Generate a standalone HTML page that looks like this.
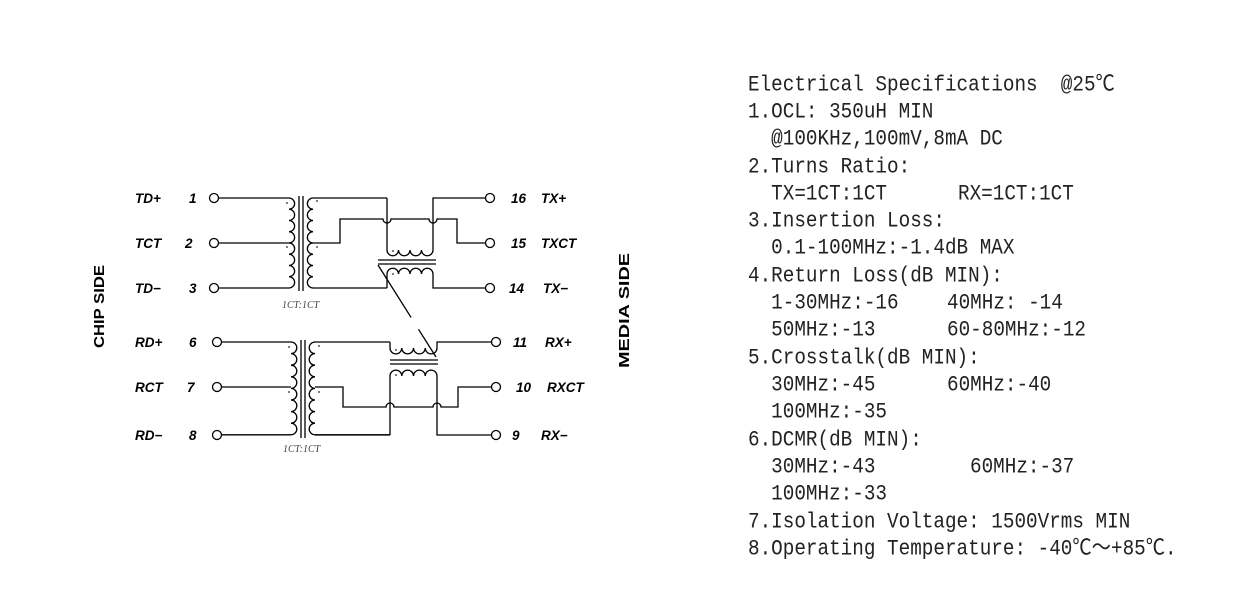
<!DOCTYPE html>
<html><head><meta charset="utf-8"><style>
body{margin:0;background:#fff;width:1242px;height:606px;overflow:hidden;position:relative}
svg{position:absolute;left:0;top:0}
.sp{position:absolute;font-family:"Liberation Mono","Noto Sans CJK SC",monospace;font-size:19.5px;color:#222;white-space:pre;line-height:20px;transform:scale(0.99,1.12);transform-origin:0 50%}
</style></head><body>
<svg width="1242" height="606" viewBox="0 0 1242 606">
<g fill="none" stroke="#000" stroke-width="1.3">
<path d="M218,198 H289 a5.6,5.6 0 0 1 0,11.25 a5.6,5.6 0 0 1 0,11.25 a5.6,5.6 0 0 1 0,11.25 a5.6,5.6 0 0 1 0,11.25 a5.6,5.6 0 0 1 0,11.25 a5.6,5.6 0 0 1 0,11.25 a5.6,5.6 0 0 1 0,11.25 a5.6,5.6 0 0 1 0,11.25 H218"/>
<path d="M218,243 H289"/>
<line x1="299" y1="196" x2="299" y2="291"/><line x1="303" y1="196" x2="303" y2="291"/>
<path d="M387,198 H313 a5.6,5.6 0 0 0 0,11.25 a5.6,5.6 0 0 0 0,11.25 a5.6,5.6 0 0 0 0,11.25 a5.6,5.6 0 0 0 0,11.25 a5.6,5.6 0 0 0 0,11.25 a5.6,5.6 0 0 0 0,11.25 a5.6,5.6 0 0 0 0,11.25 a5.6,5.6 0 0 0 0,11.25 H387"/>
<path d="M313,243 H340 V219 H383 a4,4 0 0 0 8,0 H429 a4,4 0 0 0 8,0 H457 V243 H486"/>
<path d="M387,198 V250 a5.75,5.75 0 0 0 11.5,0 a5.75,5.75 0 0 0 11.5,0 a5.75,5.75 0 0 0 11.5,0 a5.75,5.75 0 0 0 11.5,0 V198 H486"/>
<line x1="378" y1="260" x2="436" y2="260"/><line x1="378" y1="264" x2="436" y2="264"/>
<path d="M387,288 V274 a5.75,5.75 0 0 1 11.5,0 a5.75,5.75 0 0 1 11.5,0 a5.75,5.75 0 0 1 11.5,0 a5.75,5.75 0 0 1 11.5,0 V288 H486"/>
<path d="M221,342 H291 a5.6,5.6 0 0 1 0,11.6 a5.6,5.6 0 0 1 0,11.6 a5.6,5.6 0 0 1 0,11.6 a5.6,5.6 0 0 1 0,11.6 a5.6,5.6 0 0 1 0,11.6 a5.6,5.6 0 0 1 0,11.6 a5.6,5.6 0 0 1 0,11.6 a5.6,5.6 0 0 1 0,11.6 H221"/>
<path d="M221,387 H291"/>
<line x1="301" y1="340" x2="301" y2="438"/><line x1="305" y1="340" x2="305" y2="438"/>
<path d="M390,342 H315 a5.6,5.6 0 0 0 0,11.6 a5.6,5.6 0 0 0 0,11.6 a5.6,5.6 0 0 0 0,11.6 a5.6,5.6 0 0 0 0,11.6 a5.6,5.6 0 0 0 0,11.6 a5.6,5.6 0 0 0 0,11.6 a5.6,5.6 0 0 0 0,11.6 a5.6,5.6 0 0 0 0,11.6 H390"/>
<path d="M315,387 H343 V407 H386 a4,4 0 0 1 8,0 H433 a4,4 0 0 1 8,0 H458 V387 H492"/>
<path d="M390,342 V348 a5.75,5.75 0 0 0 11.75,0 a5.75,5.75 0 0 0 11.75,0 a5.75,5.75 0 0 0 11.75,0 a5.75,5.75 0 0 0 11.75,0 V342 H492"/>
<line x1="390" y1="360" x2="438" y2="360"/><line x1="390" y1="364" x2="438" y2="364"/>
<path d="M390,435 V376 a5.75,5.75 0 0 1 11.75,0 a5.75,5.75 0 0 1 11.75,0 a5.75,5.75 0 0 1 11.75,0 a5.75,5.75 0 0 1 11.75,0 V435 H492"/>
<path d="M390,435 H315"/>
<line x1="378" y1="265" x2="436" y2="357" stroke-dasharray="62 14"/>
<circle cx="214" cy="198" r="4.5" fill="#fff"/><circle cx="214" cy="243" r="4.5" fill="#fff"/><circle cx="214" cy="288" r="4.5" fill="#fff"/>
<circle cx="490" cy="198" r="4.5" fill="#fff"/><circle cx="490" cy="243" r="4.5" fill="#fff"/><circle cx="490" cy="288" r="4.5" fill="#fff"/>
<circle cx="217" cy="342" r="4.5" fill="#fff"/><circle cx="217" cy="387" r="4.5" fill="#fff"/><circle cx="217" cy="435" r="4.5" fill="#fff"/>
<circle cx="496" cy="342" r="4.5" fill="#fff"/><circle cx="496" cy="387" r="4.5" fill="#fff"/><circle cx="496" cy="435" r="4.5" fill="#fff"/>
</g>
<g fill="#555">
<circle cx="287" cy="203" r="1"/><circle cx="287" cy="247" r="1"/><circle cx="317" cy="201" r="1"/><circle cx="317" cy="247" r="1"/>
<circle cx="393" cy="251" r="1"/><circle cx="393" cy="274" r="1"/>
<circle cx="289" cy="347" r="1"/><circle cx="289" cy="392" r="1"/><circle cx="319" cy="346" r="1"/><circle cx="319" cy="392" r="1"/>
<circle cx="396" cy="350" r="1"/><circle cx="396" cy="375" r="1"/>
</g>
<g font-family="Liberation Sans,sans-serif" font-size="13.5" font-weight="bold" font-style="italic" fill="#000">
<text x="135" y="203">TD+</text><text x="189" y="203">1</text>
<text x="135" y="248">TCT</text><text x="185" y="248">2</text>
<text x="135" y="293">TD−</text><text x="189" y="293">3</text>
<text x="135" y="347">RD+</text><text x="189" y="347">6</text>
<text x="135" y="392">RCT</text><text x="187" y="392">7</text>
<text x="135" y="440">RD−</text><text x="189" y="440">8</text>
<text x="511" y="203">16</text><text x="541" y="203">TX+</text>
<text x="511" y="248">15</text><text x="541" y="248">TXCT</text>
<text x="509" y="293">14</text><text x="543" y="293">TX−</text>
<text x="513" y="347">11</text><text x="545" y="347">RX+</text>
<text x="516" y="392">10</text><text x="547" y="392">RXCT</text>
<text x="512" y="440">9</text><text x="541" y="440">RX−</text>
</g>
<g font-family="Liberation Serif,serif" font-size="10" font-style="italic" fill="#444">
<text x="282" y="308">1CT:1CT</text><text x="283" y="452">1CT:1CT</text>
</g>
<g font-family="Liberation Sans,sans-serif" font-size="15" font-weight="bold" fill="#000">
<text transform="translate(104,348) rotate(-90)" textLength="83" lengthAdjust="spacingAndGlyphs">CHIP SIDE</text>
<text transform="translate(629,368) rotate(-90)" textLength="115" lengthAdjust="spacingAndGlyphs">MEDIA SIDE</text>
</g>
</svg>
<div class="sp" style="left:748px;top:75px">Electrical Specifications  @25℃</div>
<div class="sp" style="left:748px;top:102px">1.OCL: 350uH MIN</div>
<div class="sp" style="left:748px;top:129px">  @100KHz,100mV,8mA DC</div>
<div class="sp" style="left:748px;top:157px">2.Turns Ratio:</div>
<div class="sp" style="left:748px;top:184px">  TX=1CT:1CT</div><div class="sp" style="left:958px;top:184px">RX=1CT:1CT</div>
<div class="sp" style="left:748px;top:211px">3.Insertion Loss:</div>
<div class="sp" style="left:748px;top:238px">  0.1-100MHz:-1.4dB MAX</div>
<div class="sp" style="left:748px;top:266px">4.Return Loss(dB MIN):</div>
<div class="sp" style="left:748px;top:293px">  1-30MHz:-16</div><div class="sp" style="left:947px;top:293px">40MHz: -14</div>
<div class="sp" style="left:748px;top:320px">  50MHz:-13</div><div class="sp" style="left:947px;top:320px">60-80MHz:-12</div>
<div class="sp" style="left:748px;top:348px">5.Crosstalk(dB MIN):</div>
<div class="sp" style="left:748px;top:375px">  30MHz:-45</div><div class="sp" style="left:947px;top:375px">60MHz:-40</div>
<div class="sp" style="left:748px;top:402px">  100MHz:-35</div>
<div class="sp" style="left:748px;top:430px">6.DCMR(dB MIN):</div>
<div class="sp" style="left:748px;top:457px">  30MHz:-43</div><div class="sp" style="left:970px;top:457px">60MHz:-37</div>
<div class="sp" style="left:748px;top:484px">  100MHz:-33</div>
<div class="sp" style="left:748px;top:512px">7.Isolation Voltage: 1500Vrms MIN</div>
<div class="sp" style="left:748px;top:539px">8.Operating Temperature: -40℃～+85℃.</div>
</body></html>
